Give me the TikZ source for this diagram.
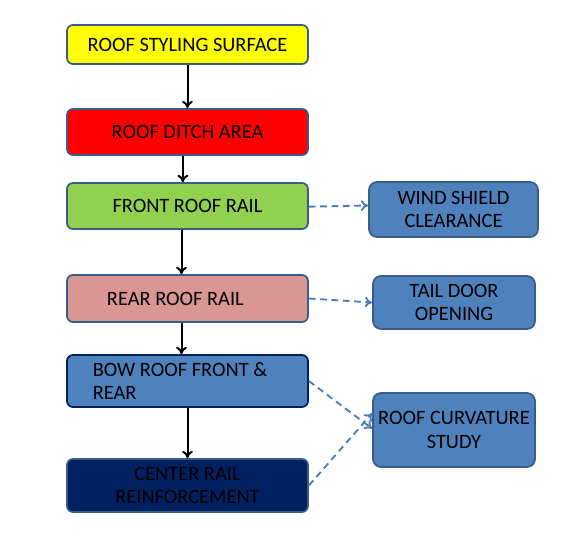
\documentclass[tikz,border=0pt]{standalone}
\usepackage{fontspec}
\setmainfont{Carlito}
\usetikzlibrary{arrows.meta}
\definecolor{edgeblue}{HTML}{385D8A}
\definecolor{stylefill}{HTML}{FFFF00}
\definecolor{ditchfill}{HTML}{FF0000}
\definecolor{frontfill}{HTML}{92D050}
\definecolor{rearfill}{HTML}{D99694}
\definecolor{bowfill}{HTML}{4F81BD}
\definecolor{navyfill}{HTML}{002060}
\definecolor{dashblue}{HTML}{4A7EBB}
\tikzset{
  stagebox/.style={draw=edgeblue, line width=1.3pt, rounded corners=4.5pt, minimum width=180.75pt, inner sep=2pt, font=\fontsize{15.3}{17.5}\selectfont, align=center},
  checkbox/.style={draw=edgeblue, line width=1.3pt, rounded corners=6pt, fill=bowfill, minimum width=121.5pt, inner sep=2pt, font=\fontsize{15.3}{17.5}\selectfont, align=center},
  flow/.style={-{To[length=5.5pt,width=8pt]}, line width=1.5pt, black},
  link/.style={-{To[length=5.5pt,width=8pt]}, line width=1.4pt, dashblue, dash pattern={on 5pt off 3.5pt}}
}
\begin{document}
\begin{tikzpicture}[x=0.75pt,y=0.75pt,yscale=-1]
        \useasboundingbox (0,0) rectangle (562,553);
        % left column
        \node (styling) [stagebox, fill=stylefill, minimum height=29.25pt] at (187.5,44.5) {ROOF STYLING SURFACE};
        \node (ditch) [stagebox, fill=ditchfill, minimum height=34.5pt] at (187.5,132) {ROOF DITCH AREA};
        \node (front) [stagebox, fill=frontfill, minimum height=34.5pt] at (187.5,206) {FRONT ROOF RAIL};
        \node (rear) [stagebox, fill=rearfill, minimum height=35.25pt] at (187.5,298.5) {\parbox{120.75pt}{REAR ROOF RAIL}};
        \node (bow) [stagebox, fill=bowfill, draw=navyfill, minimum height=39pt] at (187.5,381) {\parbox{142pt}{BOW ROOF FRONT \&\\REAR}};
        \node (center) [stagebox, fill=navyfill, minimum height=39.75pt] at (187.5,485.5) {CENTER RAIL\\REINFORCEMENT};
        % right column
        \node (wind) [checkbox, minimum width=126.75pt, minimum height=41.25pt] at (453.5,209.5) {WIND SHIELD\\CLEARANCE};
        \node (tail) [checkbox, minimum height=39.75pt] at (454,302.5) {TAIL DOOR\\OPENING};
        \node (curve) [checkbox, minimum height=55.5pt] at (454,430) {ROOF CURVATURE\\STUDY};
        % solid flow
        \draw [flow] (styling) -- (ditch);
        \draw [flow] ([xshift=-3.5pt]ditch.south) -- ([xshift=-3.5pt]front.north);
        \draw [flow] ([xshift=-4.5pt]front.south) -- ([xshift=-4.5pt]rear.north);
        \draw [flow] ([xshift=-4.5pt]rear.south) -- ([xshift=-4.5pt]bow.north);
        \draw [flow] (bow) -- (center);
        % dashed links
        \draw [link] ([yshift=0.5pt]front.east) -- ([yshift=-3pt]wind.west);
        \draw [link] (rear.east) -- (tail.west);
        \draw [link] (bow.east) -- ([yshift=-1pt]curve.west);
        \draw [link] (center.east) -- ([yshift=-12.5pt]curve.west);
\end{tikzpicture}
\end{document}
